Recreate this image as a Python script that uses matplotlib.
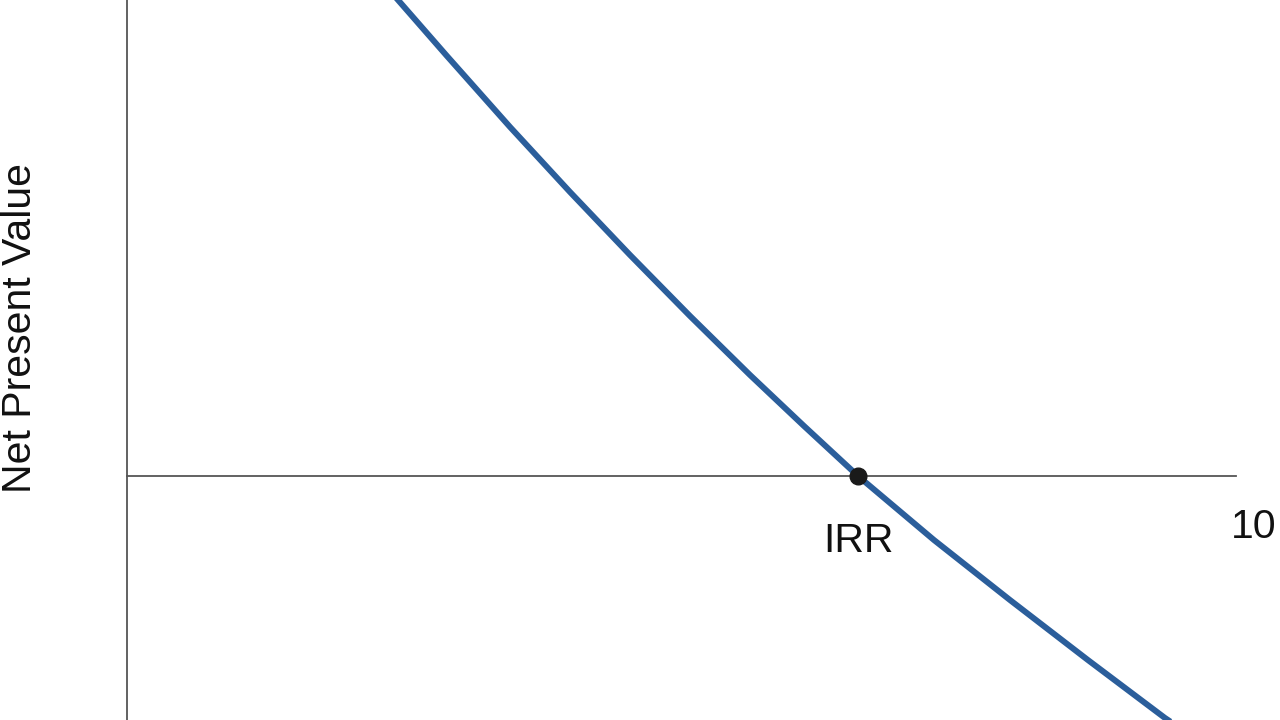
import numpy as np
import matplotlib
matplotlib.use("Agg")
from matplotlib import pyplot as plt

# NPV profile (rate in %, NPV in arbitrary units)
rate = [2.444, 2.885, 3.454, 3.995, 4.536, 5.077, 5.618, 6.105, 6.592,
        7.277, 7.962, 8.665, 9.360, 9.387]
npv = [10.0, 8.824, 7.332, 5.966, 4.643, 3.361, 2.122, 1.050, 0.0,
       -1.345, -2.605, -3.866, -5.084, -5.126]
irr = 6.592
x_end = 10
x_tick_label = "10"

plt.rcParams['font.family'] = ['Liberation Sans', 'DejaVu Sans']

if __name__ == "__main__":
    fig = plt.figure(figsize=(12.8, 7.2), dpi=100)
    ax = fig.add_axes([0, 0, 1, 1])
    ax.set_xlim(-1.145, 10.397)
    ax.set_ylim(-5.126, 10.0)
    ax.axis("off")

    # axes drawn as plain lines
    ax.plot([0, 0], [-5.126, 10.0], color="#555555", lw=1.3, zorder=1)
    ax.plot([0, x_end], [0, 0], color="#555555", lw=1.3, zorder=1)

    ax.plot(rate, npv, color="#2b5e9b", lw=4.3, solid_joinstyle="round", zorder=2)
    ax.plot([irr], [0], "o", color="#1a1a1a", markersize=12, zorder=3)

    ax.text(irr, -1.36, "IRR", fontsize=29.5, ha="center", va="center", color="#111111")
    ax.text(10.16, -1.08, x_tick_label, fontsize=29.5, ha="center", va="center", color="#111111")
    fig.text(20 / 1280, 1 - 328 / 720, "Net Present Value", fontsize=29.5, rotation=90,
             ha="center", va="center", color="#111111")

    fig.savefig("out.png", dpi=100)
